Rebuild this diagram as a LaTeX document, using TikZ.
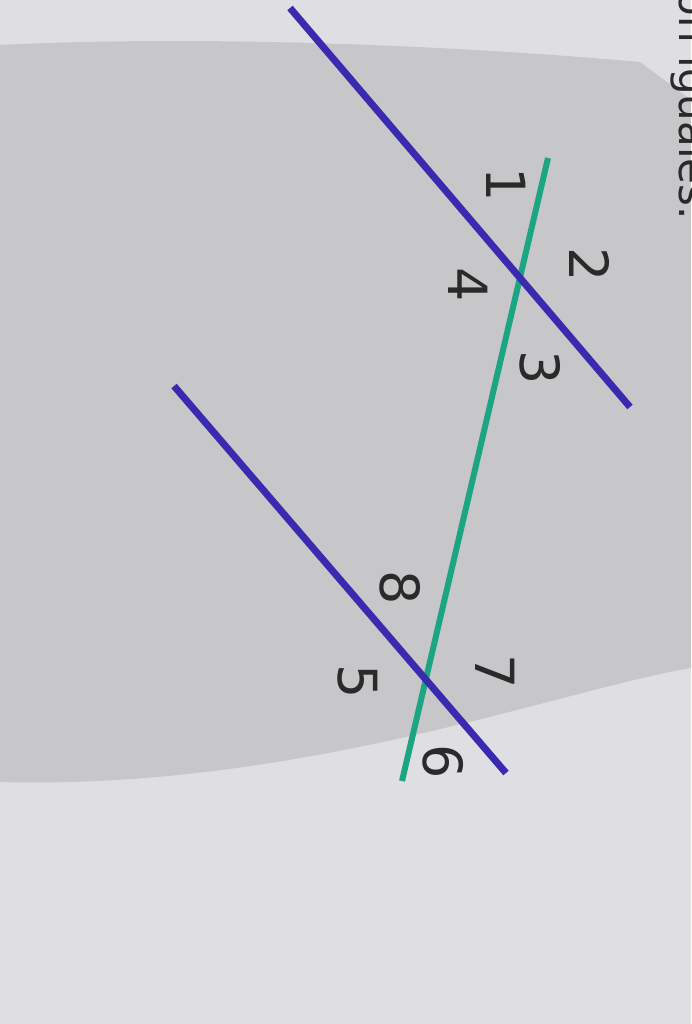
\documentclass[tikz,border=0pt]{standalone}
\usepackage{fontspec}
\setmainfont{DejaVu Sans}
\definecolor{paper}{HTML}{DFDEE3}
\definecolor{greyshade}{HTML}{C7C7C9}
\definecolor{ink}{HTML}{2A2A2A}
\definecolor{lineblue}{HTML}{3A2AB0}
\definecolor{linegreen}{HTML}{1BA582}
\tikzset{
  parallel/.style={draw=lineblue, line width=7pt},
  transversal/.style={draw=linegreen, line width=6pt},
  anglelabel/.style={text=ink, rotate=-90, inner sep=0pt, font=\fontsize{54}{54}\selectfont},
  pagetext/.style={text=ink, rotate=-90, inner sep=0pt, font=\fontsize{42}{42}\selectfont}
}
\begin{document}
\begin{tikzpicture}[x=1pt, y=-1pt]
\useasboundingbox (0,0) rectangle (691,1024);
\fill[paper] (0,0) rectangle (691,1024);
\fill[greyshade] (0,45) .. controls (200,35) and (450,45) .. (640,62) -- (691,100) -- (691,668)
  .. controls (560,690) and (300,790) .. (0,782) -- cycle;
% page text (cut off at the edge)
\node[pagetext, anchor=base east] (txt) at (679,220) {son iguales.};
% lines
\coordinate (a1) at (290,8);
\coordinate (a2) at (630,407);
\coordinate (b1) at (174,386);
\coordinate (b2) at (506,773);
\coordinate (t1) at (548,158);
\coordinate (t2) at (402,781);
\draw[transversal] (t1) -- (t2);
\draw[parallel] (a1) -- (a2);
\draw[parallel] (b1) -- (b2);
% angle labels
\node[anglelabel] (n1) at (506,185) {1};
\node[anglelabel] (n2) at (590,265) {2};
\node[anglelabel] (n3) at (540,368) {3};
\node[anglelabel] (n4) at (468,285) {4};
\node[anglelabel] (n5) at (358,682) {5};
\node[anglelabel] (n6) at (443,762) {6};
\node[anglelabel] (n7) at (495,672) {7};
\node[anglelabel] (n8) at (400,588) {8};
\end{tikzpicture}
\end{document}
